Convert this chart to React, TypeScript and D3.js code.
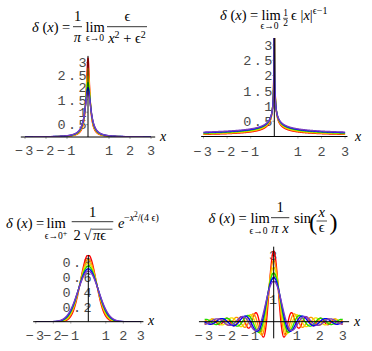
import React from 'react';
import * as d3 from 'd3';

// epsilon values of the six curves (read from the peak heights)
const epsNarrow = [0.1, 0.115, 0.13, 0.145, 0.16, 0.175];
const epsPower = [0.3, 0.34, 0.38, 0.42, 0.46, 0.5];
const curveColors = ['#ff0000', '#ff9500', '#f2e000', '#22dd00', '#0000ff', '#7a3fbf'];
const xTickValues = [-3, -2, -1, 1, 2, 3];
const yTicksLorentz = [0.5, 1, 1.5, 2, 2.5, 3];
const yTicksPower = [0.5, 1, 1.5, 2, 2.5, 3];
const yTicksGauss = [0.2, 0.4, 0.6, 0.8];
const yTicksSinc = [1, 2, 3];

const lorentz = (x: number, e: number) => e / (Math.PI * (x * x + e * e));
const power = (x: number, e: number) => 0.5 * e * Math.pow(Math.abs(x), e - 1);
const gauss = (x: number, e: number) => Math.exp(-x * x / (4 * e)) / (2 * Math.sqrt(Math.PI * e));
const sinc = (x: number, e: number) => (x === 0 ? 1 / (Math.PI * e) : Math.sin(x / e) / (Math.PI * x));

const serif = "'Liberation Serif', 'DejaVu Serif', serif";
const mono = "'Liberation Mono', 'DejaVu Sans Mono', monospace";

type Panel = {
  id: string;
  ox: number; oy: number; xUnit: number; yUnit: number;
  xExt: [number, number]; yExt: [number, number];
  yTicks: number[]; eps: number[];
  f: (x: number, e: number) => number;
  split: boolean; yLabelDx: number; xLabelDy: number;
  xName: [number, number];
};

const panels: Panel[] = [
  { id: 'p1', ox: 88, oy: 137, xUnit: 21, yUnit: 24.8, xExt: [-3.2, 3.2], yExt: [0, 3.27],
    yTicks: yTicksLorentz, eps: epsNarrow, f: lorentz, split: false, yLabelDx: -1.5, xLabelDy: 8, xName: [160, 141] },
  { id: 'p2', ox: 274.3, oy: 136.5, xUnit: 23.6, yUnit: 30.5, xExt: [-3.1, 3.1], yExt: [0, 3.23],
    yTicks: yTicksPower, eps: epsPower, f: power, split: true, yLabelDx: -2, xLabelDy: 10, xName: [355, 140.5] },
  { id: 'p3', ox: 88.3, oy: 321.7, xUnit: 17.5, yUnit: 75, xExt: [-3.15, 3.15], yExt: [0, 0.89],
    yTicks: yTicksGauss, eps: epsNarrow, f: gauss, split: false, yLabelDx: 3.4, xLabelDy: 8.5, xName: [148, 325] },
  { id: 'p4', ox: 273.7, oy: 321.7, xUnit: 23, yUnit: 22.2, xExt: [-3.25, 3.28], yExt: [-0.75, 3.38],
    yTicks: yTicksSinc, eps: epsNarrow, f: sinc, split: false, yLabelDx: 3.4, xLabelDy: 8.5, xName: [354, 325.5] },
];

const LS = 2.4;

function PlotPanel({ p }: { p: Panel }) {
  const x = d3.scaleLinear().domain(p.xExt).range([p.ox + p.xExt[0] * p.xUnit, p.ox + p.xExt[1] * p.xUnit]);
  const y = d3.scaleLinear().domain(p.yExt).range([p.oy - p.yExt[0] * p.yUnit, p.oy - p.yExt[1] * p.yUnit]);
  const line = d3.line<[number, number]>().x((d) => x(d[0])).y((d) => y(Math.min(d[1], 50)));
  const branches = p.split
    ? [d3.range(-3, -0.0009, 0.002), d3.range(0.002, 3.0009, 0.002)]
    : [d3.range(-3, 3.0001, 0.005).map((v) => (Math.abs(v) < 1e-9 ? 0 : v))];
  const [x0, x1] = x.range();
  const [yb, yt] = y.range();
  const fmt = (v: number) => String(v).replace('-', '\u2212');
  return (
    <g>
      <defs>
        <clipPath id={`clip-${p.id}`}>
          <rect x={x0} y={yt} width={x1 - x0} height={yb - yt} />
        </clipPath>
      </defs>
      <g fontFamily={mono} fontSize={13.5} fill="#4a4a4a" letterSpacing={LS}>
        {p.yTicks.map((t) => (
          <text key={`y${t}`} x={p.ox + p.yLabelDx + LS} y={y(t)} dy="0.36em" textAnchor="end">{String(t)}</text>
        ))}
        {xTickValues.map((t) => (
          <text key={`x${t}`} x={x(t) + LS / 2 - (t < 0 ? 1 : 0)} y={p.oy + p.xLabelDy} dy="0.72em" textAnchor="middle">{fmt(t)}</text>
        ))}
      </g>
      <g stroke="#999" strokeWidth={0.8}>
        {xTickValues.map((t) => (
          <line key={`xt${t}`} x1={x(t)} x2={x(t)} y1={p.oy} y2={p.oy + 2} />
        ))}
        {p.yTicks.map((t) => (
          <line key={`yt${t}`} x1={p.ox - 2} x2={p.ox} y1={y(t)} y2={y(t)} />
        ))}
      </g>
      <g clipPath={`url(#clip-${p.id})`} fill="none" strokeWidth={1.35} strokeLinejoin="round">
        {p.eps.map((e, i) =>
          branches.map((xs, j) => (
            <path key={`${i}-${j}`} d={line(xs.map((v) => [v, p.f(v, e)] as [number, number])) || ''} stroke={curveColors[i]} />
          ))
        )}
      </g>
      <g stroke="#000" strokeWidth={1}>
        <line x1={x0} x2={x1} y1={y(0)} y2={y(0)} />
        <line x1={p.ox} x2={p.ox} y1={yb} y2={yt} />
      </g>
      <text x={p.xName[0]} y={p.xName[1]} fontFamily={serif} fontStyle="italic" fontSize={14}>x</text>
    </g>
  );
}

const I = ({ children }: { children: React.ReactNode }) => <tspan fontStyle="italic">{children}</tspan>;
const Delta = ({ x, y }: { x: number; y: number }) => (
  <text x={x} y={y}><I>δ</I> (<I>x</I>) =</text>
);

function Titles() {
  return (
    <g fontFamily={serif} fontSize={14.5} fill="#000">
      {/* panel 1 */}
      <Delta x={32} y={31.5} />
      <text x={77.5} y={20.5} textAnchor="middle">1</text>
      <line x1={73} x2={82} y1={26.7} y2={26.7} stroke="#000" strokeWidth={0.8} />
      <text x={77.5} y={41.5} textAnchor="middle"><I>π</I></text>
      <text x={85.5} y={31.5}>lim</text>
      <text x={95} y={41} textAnchor="middle" fontSize={9.5}>ϵ→0</text>
      <text x={127.5} y={20.5} textAnchor="middle">ϵ</text>
      <line x1={107} x2={147} y1={26.7} y2={26.7} stroke="#000" strokeWidth={0.8} />
      <text x={127} y={43} textAnchor="middle">
        <I>x</I><tspan dy={-5.5} fontSize={10}>2</tspan><tspan dy={5.5}> + ϵ</tspan><tspan dy={-5.5} fontSize={10}>2</tspan>
      </text>

      {/* panel 2 */}
      <Delta x={220} y={20} />
      <text x={261.5} y={20}>lim</text>
      <text x={269.5} y={28.5} textAnchor="middle" fontSize={9.5}>ϵ→0</text>
      <text x={285.5} y={15.5} textAnchor="middle" fontSize={9.5}>1</text>
      <line x1={283} x2={288} y1={18.3} y2={18.3} stroke="#000" strokeWidth={0.6} />
      <text x={285.5} y={26.3} textAnchor="middle" fontSize={9.5}>2</text>
      <text x={291} y={20}>ϵ |<I>x</I>|<tspan dy={-6.5} fontSize={10}>ϵ−1</tspan></text>

      {/* panel 3 */}
      <Delta x={6} y={228.3} />
      <text x={46.5} y={228.3}>lim</text>
      <text x={56} y={239} textAnchor="middle" fontSize={9.5}>ϵ→0<tspan dy={-3} fontSize={8}>+</tspan></text>
      <text x={92.5} y={216.5} textAnchor="middle">1</text>
      <line x1={71.7} x2={113.3} y1={221.7} y2={221.7} stroke="#000" strokeWidth={0.8} />
      <text x={73.5} y={240}>2</text>
      <text x={83.5} y={240}>√</text>
      <line x1={91.5} x2={112.5} y1={229.2} y2={229.2} stroke="#000" strokeWidth={0.7} />
      <text x={93} y={240}><I>π</I>ϵ</text>
      <text x={118} y={228.3}><I>e</I></text>
      <text x={124} y={221.3} fontSize={10}>
        −<I>x</I><tspan dy={-4} fontSize={7.5}>2</tspan><tspan dy={4}>/(4 ϵ)</tspan>
      </text>

      {/* panel 4 */}
      <Delta x={208.5} y={223.3} />
      <text x={250.5} y={223.3}>lim</text>
      <text x={258.5} y={233.5} textAnchor="middle" fontSize={9.5}>ϵ→0</text>
      <text x={280} y={212.3} textAnchor="middle">1</text>
      <line x1={271} x2={289.3} y1={217.7} y2={217.7} stroke="#000" strokeWidth={0.8} />
      <text x={280} y={233.3} textAnchor="middle"><I>π</I> <I>x</I></text>
      <text x={294} y={223.3}>sin</text>
      <text x={309} y={229.5} fontSize={24}>(</text>
      <text x={329.5} y={229.5} fontSize={24}>)</text>
      <text x={321.8} y={216.5} textAnchor="middle"><I>x</I></text>
      <line x1={316.5} x2={327} y1={221} y2={221} stroke="#000" strokeWidth={0.7} />
      <text x={321.8} y={231.5} textAnchor="middle">ϵ</text>
    </g>
  );
}

export default function App() {
  return (
    <svg width={372} height={351} style={{ position: 'absolute', left: 0, top: 0, background: '#fff' }}>
      <rect width={372} height={351} fill="#fff" />
      {panels.map((p) => (
        <PlotPanel key={p.id} p={p} />
      ))}
      <Titles />
    </svg>
  );
}
